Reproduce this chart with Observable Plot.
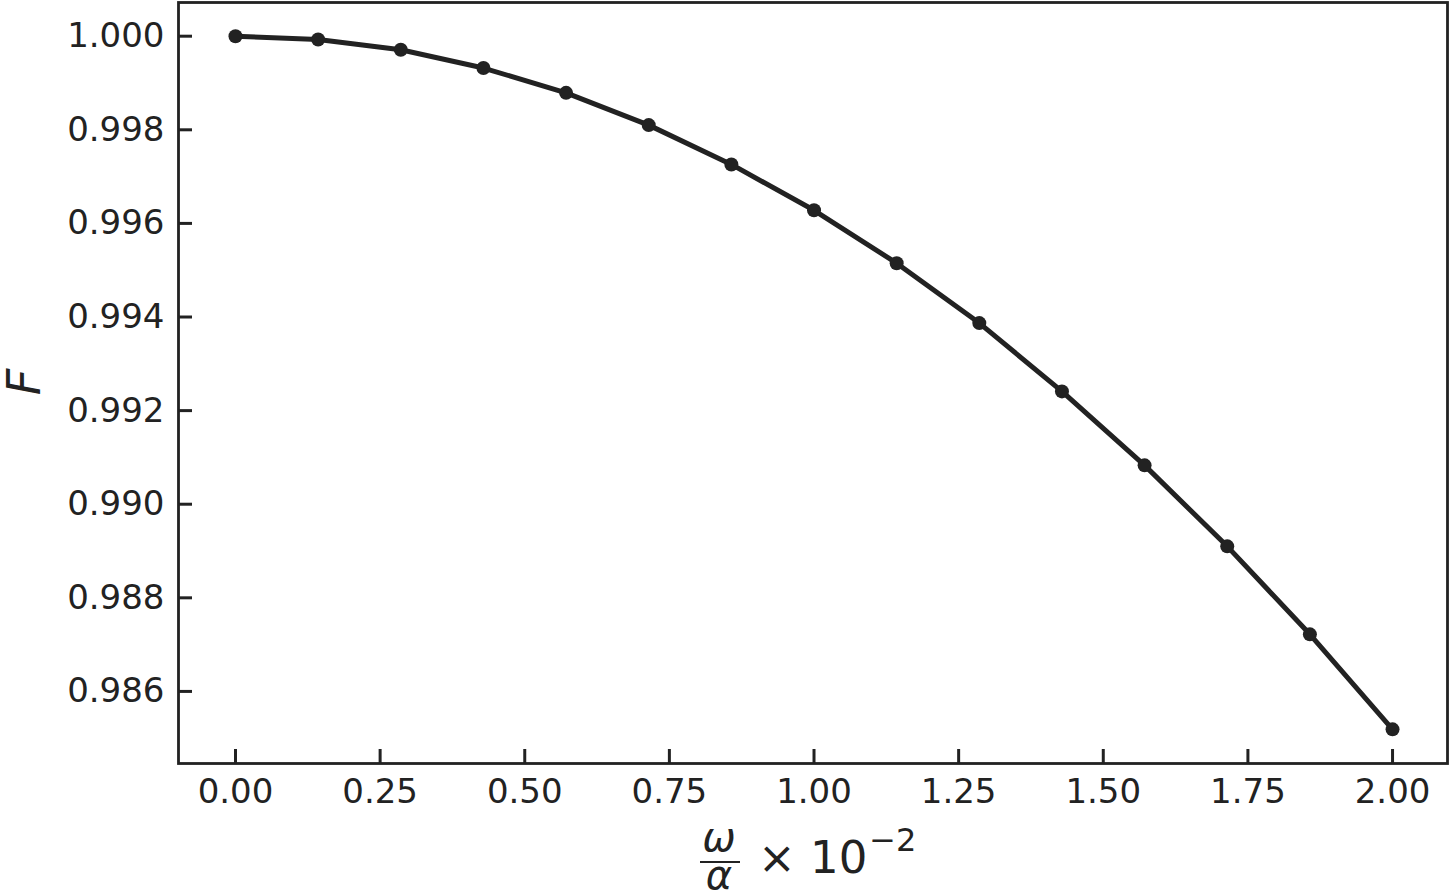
<!DOCTYPE html>
<html>
<head>
<meta charset="utf-8">
<script src="https://cdn.jsdelivr.net/npm/d3@7"></script>
<script src="https://cdn.jsdelivr.net/npm/@observablehq/plot@0.6"></script>
<style>
  html, body { margin: 0; padding: 0; background: #fff; }
  svg { display: block; }
</style>
</head>
<body>
<div id="chart"></div>
<script>
// Data
const omegaOverAlpha = [0, 0.142857, 0.285714, 0.428571, 0.571429, 0.714286, 0.857143, 1.0,
                        1.142857, 1.285714, 1.428571, 1.571429, 1.714286, 1.857143, 2.0];
const fidelity = [1.00000, 0.99993, 0.99971, 0.99932, 0.99879, 0.99810, 0.99726, 0.99628,
                  0.99515, 0.99387, 0.99241, 0.99083, 0.98910, 0.98722, 0.98519];
const xTicks = [0, 0.25, 0.5, 0.75, 1.0, 1.25, 1.5, 1.75, 2.0];
const yTicks = [0.986, 0.988, 0.990, 0.992, 0.994, 0.996, 0.998, 1.000];

const data = omegaOverAlpha.map((x, i) => ({x, y: fidelity[i]}));
const ink = "#222222";

const W = 1450, H = 896, mL = 178, mR = 3, mT = 2, mB = 133;
const tickLen = 14;

const chart = Plot.plot({
  width: W,
  height: H,
  marginLeft: mL,
  marginRight: mR,
  marginTop: mT,
  marginBottom: mB,
  style: {fontFamily: "DejaVu Sans", fontSize: "34px", color: ink, background: "#fff"},
  x: {domain: [-0.0985, 2.095]},
  y: {domain: [0.98446, 1.00072]},
  marks: [
    // tick labels
    Plot.axisX({ticks: xTicks, tickFormat: d3.format(".2f"), tickSize: 0, tickPadding: 15,
                fontSize: 34, label: null, fill: ink}),
    Plot.axisY({ticks: yTicks, tickFormat: d3.format(".3f"), tickSize: 0, tickPadding: 14,
                fontSize: 34, label: null, fill: ink}),
    Plot.line(data, {x: "x", y: "y", stroke: ink, strokeWidth: 5}),
    Plot.dot(data, {x: "x", y: "y", r: 7, fill: ink, stroke: "none"}),
    Plot.frame({stroke: ink, strokeWidth: 2.8}),
    // inward tick marks
    Plot.tickX(xTicks, {x: d => d, stroke: ink, strokeWidth: 3, insetTop: (H - mT - mB) - tickLen}),
    Plot.tickY(yTicks, {y: d => d, stroke: ink, strokeWidth: 3, insetRight: (W - mL - mR) - tickLen})
  ]
});

document.getElementById("chart").appendChild(chart);

// Axis titles
const svg = d3.select(chart);
const xl = svg.append("g").attr("fill", ink).attr("font-family", "DejaVu Sans");
xl.append("text").attr("x", 719).attr("y", 851).attr("text-anchor", "middle")
  .attr("font-size", 40).attr("font-style", "italic").text("ω");
xl.append("line").attr("x1", 700).attr("x2", 740).attr("y1", 862).attr("y2", 862)
  .attr("stroke", ink).attr("stroke-width", 2.2);
xl.append("text").attr("x", 719).attr("y", 889).attr("text-anchor", "middle")
  .attr("font-size", 40).attr("font-style", "italic").text("α");
const rest = xl.append("text").attr("x", 758).attr("y", 873).attr("text-anchor", "start")
  .attr("font-size", 45);
rest.append("tspan").text("× 10");
rest.append("tspan").attr("dy", -22).attr("dx", 2).attr("font-size", 32).text("−2");

svg.append("text").attr("transform", "translate(40,382) rotate(-90)")
  .attr("text-anchor", "middle").attr("font-family", "DejaVu Sans")
  .attr("font-size", 46).attr("font-style", "italic").attr("fill", ink).text("F");
</script>
</body>
</html>
